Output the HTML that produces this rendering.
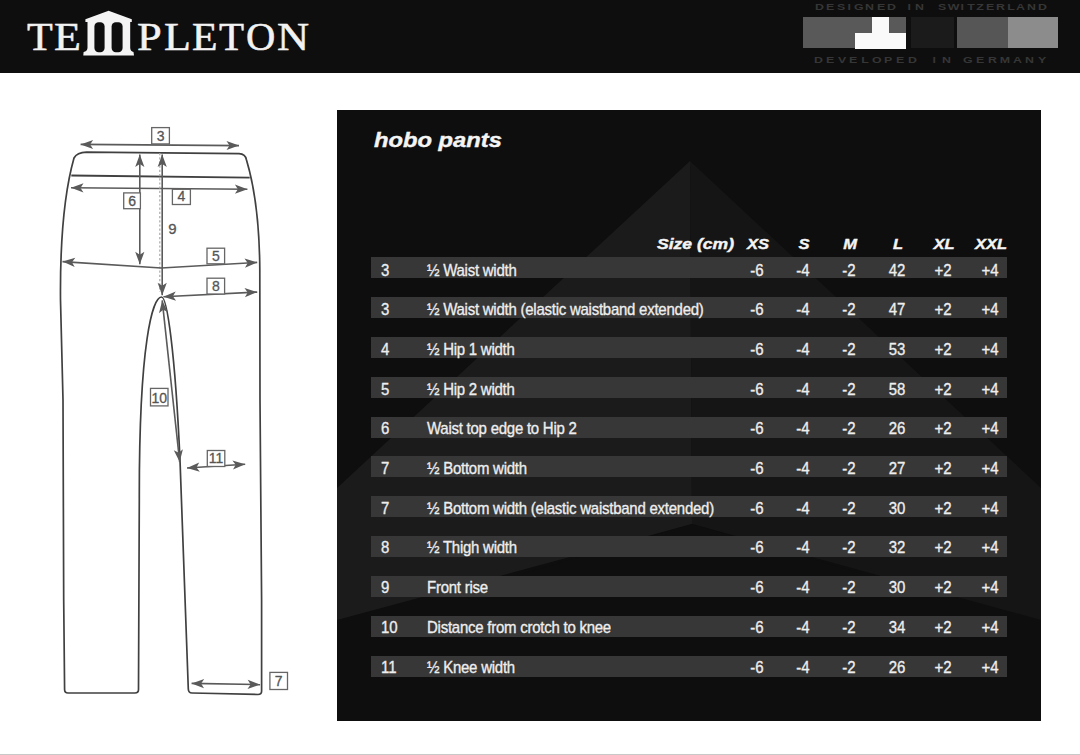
<!DOCTYPE html>
<html><head><meta charset="utf-8">
<style>
html,body{margin:0;padding:0;}
body{width:1080px;height:755px;position:relative;overflow:hidden;background:#fff;font-family:"Liberation Sans",sans-serif;}
#hdr{position:absolute;left:0;top:0;width:1080px;height:73px;background:#0e0e0e;}
#botline{position:absolute;left:0;top:754px;width:1080px;height:1px;background:#c8c8c8;}
.lt{position:absolute;top:14px;font-family:"Liberation Serif",serif;color:#f2f2f2;font-size:39px;line-height:45px;white-space:nowrap;transform-origin:0 0;display:block;-webkit-text-stroke:0.5px #f2f2f2;}
.rw{position:absolute;display:flex;justify-content:space-between;font-size:9.5px;font-weight:bold;color:#363636;line-height:12px;white-space:nowrap;}
.rw span{display:inline-block;transform:scaleX(1.3);}
#panel{position:absolute;left:337px;top:110px;width:704px;height:611px;background:#0e0e0e;overflow:hidden;}
#title{position:absolute;left:37px;top:18px;font-size:21px;font-weight:bold;font-style:italic;color:#f4f4f4;white-space:nowrap;letter-spacing:0px;-webkit-text-stroke:0.4px #f4f4f4;transform:scaleX(1.13);transform-origin:0 0;}
.row{position:absolute;left:34px;width:636px;height:21px;background:#373737;}
.row span{position:absolute;top:1.5px;line-height:21px;color:#eee;font-size:15px;white-space:nowrap;transform:scaleY(1.13);transform-origin:50% 9.8px;}
.n{left:10px;}
.lb{left:56px;letter-spacing:-0.25px;-webkit-text-stroke:0.3px #eee;}
.n,.v{-webkit-text-stroke:0.3px #eee;}
.v{width:40px;text-align:center;}
.h{position:absolute;top:122.5px;transform:scaleX(1.1);width:50px;text-align:center;font-size:15px;font-weight:bold;font-style:italic;color:#f4f4f4;line-height:22px;-webkit-text-stroke:0.4px #f4f4f4;}
#sizecm{position:absolute;top:122.5px;left:319.5px;font-size:15px;font-weight:bold;font-style:italic;color:#f4f4f4;line-height:22px;white-space:nowrap;-webkit-text-stroke:0.4px #f4f4f4;transform:scaleX(1.17);transform-origin:0 0;}
svg{position:absolute;left:0;top:0;}
</style></head><body>
<div id="hdr">
  <span class="lt" style="left:27.1px;transform:scaleX(1.08)">T</span><span class="lt" style="left:53.8px;transform:scaleX(1.13)">E</span><span class="lt" style="left:137.3px;transform:scaleX(1.14)">P</span><span class="lt" style="left:163.6px;transform:scaleX(1.13)">L</span><span class="lt" style="left:191.5px;transform:scaleX(1.07)">E</span><span class="lt" style="left:219.1px;transform:scaleX(1.05)">T</span><span class="lt" style="left:246.3px;transform:scaleX(1.04)">O</span><span class="lt" style="left:277.0px;transform:scaleX(1.14)">N</span>
  <svg width="60" height="60" style="left:80px;top:5px" viewBox="80 5 60 60">
    <path d="M108.6 10.8 L131.8 19.3 L131.8 22 L85.4 22 L85.4 19.3 Z" fill="#f4f4f4"/>
    <path d="M87.5 21 L130.2 21 L130.2 48 Q130.5 51.5 133.5 52 L134 55.5 L83.3 55.5 L83.6 52 Q87.2 51.5 87.5 48 Z" fill="#f4f4f4"/>
    <rect x="94.4" y="22.3" width="10.2" height="30" rx="4.2" fill="#0e0e0e"/>
    <rect x="111.6" y="22.3" width="11" height="30" rx="4.2" fill="#0e0e0e"/>
  </svg>
  <div class="rw" style="left:816.2px;width:78.7px;top:1.3px"><span>D</span><span>E</span><span>S</span><span>I</span><span>G</span><span>N</span><span>E</span><span>D</span></div>
  <div class="rw" style="left:908.2px;width:14.6px;top:1.3px"><span>I</span><span>N</span></div>
  <div class="rw" style="left:938.5px;width:107.0px;top:1.3px"><span>S</span><span>W</span><span>I</span><span>T</span><span>Z</span><span>E</span><span>R</span><span>L</span><span>A</span><span>N</span><span>D</span></div>
  <div class="rw" style="left:814.9px;width:100.6px;top:53.7px"><span>D</span><span>E</span><span>V</span><span>E</span><span>L</span><span>O</span><span>P</span><span>E</span><span>D</span></div>
  <div class="rw" style="left:933.0px;width:17.2px;top:53.7px"><span>I</span><span>N</span></div>
  <div class="rw" style="left:964.2px;width:80.9px;top:53.7px"><span>G</span><span>E</span><span>R</span><span>M</span><span>A</span><span>N</span><span>Y</span></div>
  <div style="position:absolute;left:803px;top:17px;width:103px;height:31px;background:#595959"></div>
  <div style="position:absolute;left:855px;top:32.5px;width:51px;height:16px;background:#fafafa"></div>
  <div style="position:absolute;left:871.5px;top:17px;width:17.5px;height:16px;background:#fafafa"></div>
  <div style="position:absolute;left:911px;top:17px;width:43px;height:31px;background:#1b1b1b"></div>
  <div style="position:absolute;left:957px;top:17px;width:51px;height:31px;background:#565656"></div>
  <div style="position:absolute;left:1008px;top:17px;width:50px;height:31px;background:#8c8c8c"></div>
</div>
<div id="botline"></div>
<svg id="pants" width="340" height="755" viewBox="0 0 340 755" style="left:0;top:0"><path d="M86.5,152.2 L239,153.7 Q245.5,154 246.5,160 C254,185 259.5,220 259.8,270 L260,400 L261.6,600 L261.6,691 Q261.6,694.5 258,694.5 L192,693 Q188.5,693 188.3,689 L180,460 C175,350 167,297 161.5,297 C153,297 139,340 139.3,500 L138.5,689.5 Q138.5,693 135,693 L68,693 Q64.6,693 64.6,689.5 L63.7,600 L63,400 L60.5,300 C60,240 65,190 74,158 Q77,152.5 86.5,152.2 Z" fill="none" stroke="#404040" stroke-width="1.7" stroke-linejoin="round"/><line x1="71.3" y1="175.5" x2="249.7" y2="177.6" stroke="#404040" stroke-width="1.8"/><polyline points="80.6,144.4 239,145.6" fill="none" stroke="#5a5a5a" stroke-width="1.6"/><path d="M80.6,144.4 L93.1,139.9 L90.1,144.5 L93.1,149.1 Z" fill="#5a5a5a"/><path d="M239.0,145.6 L226.5,150.1 L229.5,145.5 L226.5,140.9 Z" fill="#5a5a5a"/><polyline points="71,187.8 247.4,189.3" fill="none" stroke="#5a5a5a" stroke-width="1.6"/><path d="M71.0,187.8 L83.5,183.3 L80.5,187.9 L83.5,192.5 Z" fill="#5a5a5a"/><path d="M247.4,189.3 L234.9,193.8 L237.9,189.2 L234.9,184.6 Z" fill="#5a5a5a"/><polyline points="139.8,154.4 139.8,264.3" fill="none" stroke="#5a5a5a" stroke-width="1.6"/><path d="M139.8,154.4 L144.4,166.9 L139.8,163.9 L135.2,166.9 Z" fill="#5a5a5a"/><path d="M139.8,264.3 L135.2,251.8 L139.8,254.8 L144.4,251.8 Z" fill="#5a5a5a"/><line x1="159.8" y1="153" x2="159.8" y2="292" stroke="#aaa" stroke-width="1.2" stroke-dasharray="2.2,2"/><polyline points="162.2,154.4 162.2,295.3" fill="none" stroke="#5a5a5a" stroke-width="1.6"/><path d="M162.2,154.4 L166.8,166.9 L162.2,163.9 L157.6,166.9 Z" fill="#5a5a5a"/><path d="M162.2,295.3 L157.6,282.8 L162.2,285.8 L166.8,282.8 Z" fill="#5a5a5a"/><polyline points="62.5,261.6 161.2,268 257.2,262.4" fill="none" stroke="#5a5a5a" stroke-width="1.6"/><path d="M62.5,261.6 L75.3,257.8 L72.0,262.2 L74.7,267.0 Z" fill="#5a5a5a"/><path d="M257.2,262.4 L245.0,267.7 L247.7,263.0 L244.5,258.5 Z" fill="#5a5a5a"/><polyline points="163.4,296.7 257.2,292.1" fill="none" stroke="#5a5a5a" stroke-width="1.6"/><path d="M163.4,296.7 L175.7,291.5 L172.9,296.2 L176.1,300.7 Z" fill="#5a5a5a"/><path d="M257.2,292.1 L244.9,297.3 L247.7,292.6 L244.5,288.1 Z" fill="#5a5a5a"/><polyline points="162.2,300.4 179.7,462.1" fill="none" stroke="#5a5a5a" stroke-width="1.6"/><path d="M162.2,300.4 L168.1,312.3 L163.2,309.8 L159.0,313.3 Z" fill="#5a5a5a"/><path d="M179.7,462.1 L173.8,450.2 L178.7,452.7 L182.9,449.2 Z" fill="#5a5a5a"/><polyline points="187,468 245.2,464.2" fill="none" stroke="#5a5a5a" stroke-width="1.6"/><path d="M187.0,468.0 L199.2,462.6 L196.5,467.4 L199.8,471.8 Z" fill="#5a5a5a"/><path d="M245.2,464.2 L233.0,469.6 L235.7,464.8 L232.4,460.4 Z" fill="#5a5a5a"/><polyline points="191.6,683.4 260.1,684.6" fill="none" stroke="#5a5a5a" stroke-width="1.6"/><path d="M191.6,683.4 L204.2,679.0 L201.1,683.6 L204.0,688.2 Z" fill="#5a5a5a"/><path d="M260.1,684.6 L247.5,689.0 L250.6,684.4 L247.7,679.8 Z" fill="#5a5a5a"/><rect x="151.7" y="127.6" width="17.7" height="16.3" fill="#fff" stroke="#666" stroke-width="1.3"/><text x="160.6" y="140.7" text-anchor="middle" font-size="14" fill="#555" stroke="#555" stroke-width="0.3" font-family="Liberation Sans">3</text><rect x="172.4" y="189.3" width="18.0" height="15.2" fill="#fff" stroke="#666" stroke-width="1.3"/><text x="181.4" y="201.3" text-anchor="middle" font-size="14" fill="#555" stroke="#555" stroke-width="0.3" font-family="Liberation Sans">4</text><rect x="123.7" y="192.9" width="16.7" height="15.8" fill="#fff" stroke="#666" stroke-width="1.3"/><text x="132.1" y="205.5" text-anchor="middle" font-size="14" fill="#555" stroke="#555" stroke-width="0.3" font-family="Liberation Sans">6</text><rect x="207" y="248.2" width="17.6" height="15.6" fill="#fff" stroke="#666" stroke-width="1.3"/><text x="215.8" y="260.6" text-anchor="middle" font-size="14" fill="#555" stroke="#555" stroke-width="0.3" font-family="Liberation Sans">5</text><rect x="207" y="278.2" width="17.6" height="15.8" fill="#fff" stroke="#666" stroke-width="1.3"/><text x="215.8" y="290.8" text-anchor="middle" font-size="14" fill="#555" stroke="#555" stroke-width="0.3" font-family="Liberation Sans">8</text><rect x="150.5" y="388.4" width="17.5" height="17.5" fill="#fff" stroke="#666" stroke-width="1.3"/><text x="159.2" y="402.7" text-anchor="middle" font-size="14" fill="#555" stroke="#555" stroke-width="0.3" font-family="Liberation Sans">10</text><rect x="207.3" y="450.5" width="17.5" height="16.0" fill="#fff" stroke="#666" stroke-width="1.3"/><text x="216.1" y="463.3" text-anchor="middle" font-size="14" fill="#555" stroke="#555" stroke-width="0.3" font-family="Liberation Sans">11</text><rect x="269.9" y="672.4" width="17.6" height="17.1" fill="#fff" stroke="#666" stroke-width="1.3"/><text x="278.7" y="686.3" text-anchor="middle" font-size="14" fill="#555" stroke="#555" stroke-width="0.3" font-family="Liberation Sans">7</text><text x="172.3" y="233.8" text-anchor="middle" font-size="15" fill="#555" stroke="#555" stroke-width="0.3" font-family="Liberation Sans">9</text></svg>

<div id="panel">
  <svg width="704" height="611" viewBox="0 0 704 611">
    <polygon points="353,51 0,378 0,510 355,414" fill="#1b1b1b"/>
    <polygon points="353,51 355,414 704,510 704,378" fill="#151515"/>
    <polygon points="355,414 185,464 526,464" fill="#0e0e0e"/>
  </svg>
  <div id="title">hobo pants</div>
  <div id="sizecm">Size (cm)</div>
  <span class="h" style="left:396px">XS</span><span class="h" style="left:442px">S</span><span class="h" style="left:488px">M</span><span class="h" style="left:536px">L</span><span class="h" style="left:582px">XL</span><span class="h" style="left:629px">XXL</span>
  <div class="row" style="top:147.0px"><span class="n" style="top:1.60px">3</span><span class="lb" style="top:1.60px">½ Waist width</span><span class="v" style="left:366px;top:1.60px">-6</span><span class="v" style="left:412px;top:1.60px">-4</span><span class="v" style="left:458px;top:1.60px">-2</span><span class="v" style="left:506px;top:1.60px">42</span><span class="v" style="left:552px;top:1.60px">+2</span><span class="v" style="left:599px;top:1.60px">+4</span></div>
<div class="row" style="top:186.9px"><span class="n" style="top:1.41px">3</span><span class="lb" style="top:1.41px">½ Waist width (elastic waistband extended)</span><span class="v" style="left:366px;top:1.41px">-6</span><span class="v" style="left:412px;top:1.41px">-4</span><span class="v" style="left:458px;top:1.41px">-2</span><span class="v" style="left:506px;top:1.41px">47</span><span class="v" style="left:552px;top:1.41px">+2</span><span class="v" style="left:599px;top:1.41px">+4</span></div>
<div class="row" style="top:226.8px"><span class="n" style="top:1.22px">4</span><span class="lb" style="top:1.22px">½ Hip 1 width</span><span class="v" style="left:366px;top:1.22px">-6</span><span class="v" style="left:412px;top:1.22px">-4</span><span class="v" style="left:458px;top:1.22px">-2</span><span class="v" style="left:506px;top:1.22px">53</span><span class="v" style="left:552px;top:1.22px">+2</span><span class="v" style="left:599px;top:1.22px">+4</span></div>
<div class="row" style="top:266.7px"><span class="n" style="top:1.03px">5</span><span class="lb" style="top:1.03px">½ Hip 2 width</span><span class="v" style="left:366px;top:1.03px">-6</span><span class="v" style="left:412px;top:1.03px">-4</span><span class="v" style="left:458px;top:1.03px">-2</span><span class="v" style="left:506px;top:1.03px">58</span><span class="v" style="left:552px;top:1.03px">+2</span><span class="v" style="left:599px;top:1.03px">+4</span></div>
<div class="row" style="top:306.6px"><span class="n" style="top:0.84px">6</span><span class="lb" style="top:0.84px">Waist top edge to Hip 2</span><span class="v" style="left:366px;top:0.84px">-6</span><span class="v" style="left:412px;top:0.84px">-4</span><span class="v" style="left:458px;top:0.84px">-2</span><span class="v" style="left:506px;top:0.84px">26</span><span class="v" style="left:552px;top:0.84px">+2</span><span class="v" style="left:599px;top:0.84px">+4</span></div>
<div class="row" style="top:346.4px"><span class="n" style="top:0.65px">7</span><span class="lb" style="top:0.65px">½ Bottom width</span><span class="v" style="left:366px;top:0.65px">-6</span><span class="v" style="left:412px;top:0.65px">-4</span><span class="v" style="left:458px;top:0.65px">-2</span><span class="v" style="left:506px;top:0.65px">27</span><span class="v" style="left:552px;top:0.65px">+2</span><span class="v" style="left:599px;top:0.65px">+4</span></div>
<div class="row" style="top:386.3px"><span class="n" style="top:0.46px">7</span><span class="lb" style="top:0.46px">½ Bottom width (elastic waistband extended)</span><span class="v" style="left:366px;top:0.46px">-6</span><span class="v" style="left:412px;top:0.46px">-4</span><span class="v" style="left:458px;top:0.46px">-2</span><span class="v" style="left:506px;top:0.46px">30</span><span class="v" style="left:552px;top:0.46px">+2</span><span class="v" style="left:599px;top:0.46px">+4</span></div>
<div class="row" style="top:426.2px"><span class="n" style="top:0.27px">8</span><span class="lb" style="top:0.27px">½ Thigh width</span><span class="v" style="left:366px;top:0.27px">-6</span><span class="v" style="left:412px;top:0.27px">-4</span><span class="v" style="left:458px;top:0.27px">-2</span><span class="v" style="left:506px;top:0.27px">32</span><span class="v" style="left:552px;top:0.27px">+2</span><span class="v" style="left:599px;top:0.27px">+4</span></div>
<div class="row" style="top:466.1px"><span class="n" style="top:0.08px">9</span><span class="lb" style="top:0.08px">Front rise</span><span class="v" style="left:366px;top:0.08px">-6</span><span class="v" style="left:412px;top:0.08px">-4</span><span class="v" style="left:458px;top:0.08px">-2</span><span class="v" style="left:506px;top:0.08px">30</span><span class="v" style="left:552px;top:0.08px">+2</span><span class="v" style="left:599px;top:0.08px">+4</span></div>
<div class="row" style="top:506.0px"><span class="n" style="top:-0.11px">10</span><span class="lb" style="top:-0.11px">Distance from crotch to knee</span><span class="v" style="left:366px;top:-0.11px">-6</span><span class="v" style="left:412px;top:-0.11px">-4</span><span class="v" style="left:458px;top:-0.11px">-2</span><span class="v" style="left:506px;top:-0.11px">34</span><span class="v" style="left:552px;top:-0.11px">+2</span><span class="v" style="left:599px;top:-0.11px">+4</span></div>
<div class="row" style="top:545.9px"><span class="n" style="top:-0.30px">11</span><span class="lb" style="top:-0.30px">½ Knee width</span><span class="v" style="left:366px;top:-0.30px">-6</span><span class="v" style="left:412px;top:-0.30px">-4</span><span class="v" style="left:458px;top:-0.30px">-2</span><span class="v" style="left:506px;top:-0.30px">26</span><span class="v" style="left:552px;top:-0.30px">+2</span><span class="v" style="left:599px;top:-0.30px">+4</span></div>
</div>
</body></html>
